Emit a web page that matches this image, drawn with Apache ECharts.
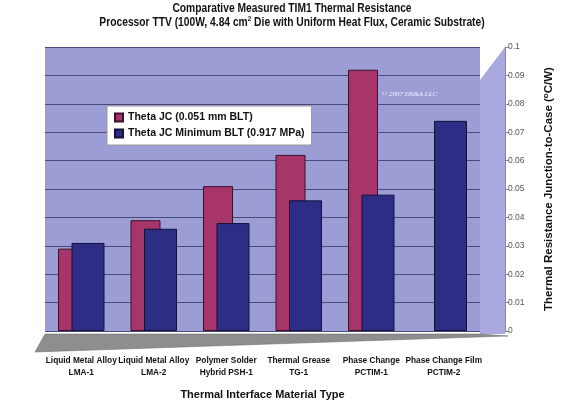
<!DOCTYPE html>
<html>
<head>
    <meta charset="utf-8">
    <title>TIM1 Thermal Resistance</title>
    <script src="https://cdn.jsdelivr.net/npm/echarts@6/dist/echarts.min.js"></script>
    <style>
        html, body { margin: 0; padding: 0; background: #fff; }
        #chart { width: 585px; height: 405px; }
    </style>
</head>
<body>
    <div id="chart"></div>
    <script>
        // categories
        const materials = [
            'Liquid Metal Alloy\nLMA-1',
            'Liquid Metal Alloy\nLMA-2',
            'Polymer Solder\nHybrid PSH-1',
            'Thermal Grease\nTG-1',
            'Phase Change\nPCTIM-1',
            'Phase Change Film\nPCTIM-2'
        ];
        // values (C/W)
        const thetaBLT = [0.029, 0.039, 0.051, 0.062, 0.092, null];
        const thetaMin = [0.031, 0.036, 0.038, 0.046, 0.048, 0.074];
        const seriesNames = ['Theta JC (0.051 mm BLT)', 'Theta JC Minimum BLT (0.917 MPa)'];

        const font = '"Liberation Sans", "DejaVu Sans Condensed", sans-serif';
        const supStyle = { fontSize: 8, fontWeight: 'bold', fontFamily: font, verticalAlign: 'top', padding: [0, 0, 6, 0] };

        const chart = echarts.init(document.getElementById('chart'));

        const option = {
            backgroundColor: '#fff',
            legend: {
                data: seriesNames,
                orient: 'vertical',
                left: 107,
                top: 106,
                backgroundColor: '#fff',
                borderColor: '#999',
                borderWidth: 1,
                padding: [6, 7, 6, 7],
                itemGap: 5,
                itemWidth: 8,
                itemHeight: 8,
                icon: 'rect',
                textStyle: {
                    fontFamily: font,
                    fontSize: 10.5,
                    fontWeight: 'bold',
                    color: '#111'
                }
            },
            grid: {
                left: 45,
                right: 105,
                top: 47,
                bottom: 71,
                show: true,
                backgroundColor: '#9d9dd6',
                borderWidth: 0
            },
            xAxis: {
                type: 'category',
                data: materials,
                axisLine: { show: false },
                axisTick: { show: false },
                axisLabel: {
                    interval: 0,
                    margin: 24,
                    fontFamily: font,
                    fontSize: 8.3,
                    fontWeight: 'bold',
                    color: '#111',
                    lineHeight: 12
                },
                name: 'Thermal Interface Material Type',
                nameLocation: 'middle',
                nameGap: 58,
                nameTextStyle: {
                    fontFamily: font,
                    fontSize: 11,
                    fontWeight: 'bold',
                    color: '#111'
                }
            },
            yAxis: {
                type: 'value',
                position: 'right',
                offset: 25,
                min: 0,
                max: 0.1,
                interval: 0.01,
                axisLine: { show: true, lineStyle: { color: '#888' } },
                axisTick: { show: true, length: 4, lineStyle: { color: '#888' } },
                axisLabel: {
                    margin: 3,
                    fontFamily: font,
                    fontSize: 8.5,
                    color: '#555',
                    formatter: v => String(+v.toFixed(2))
                },
                splitLine: { show: true, lineStyle: { color: '#4a4a78', width: 1 } },
                name: 'Thermal Resistance Junction-to-Case ({sup|o}C/W)',
                nameLocation: 'middle',
                nameRotate: 90,
                nameGap: 37,
                nameTextStyle: {
                    fontFamily: font,
                    fontSize: 11.5,
                    fontWeight: 'bold',
                    color: '#111',
                    rich: { sup: supStyle }
                }
            },
            graphic: [
                // title, squeezed to match the condensed face of the original
                {
                    type: 'text',
                    x: 292,
                    y: 1,
                    scaleX: 0.79,
                    style: {
                        text: 'Comparative Measured TIM1 Thermal Resistance\nProcessor TTV (100W, 4.84 cm{sup|2} Die with Uniform Heat Flux, Ceramic Substrate)',
                        align: 'center',
                        font: 'bold 13px ' + font,
                        fill: '#111',
                        lineHeight: 14,
                        rich: { sup: supStyle }
                    }
                },
                // side wall and floor of the Excel 3D look
                {
                    type: 'polygon',
                    z: -10,
                    shape: { points: [[480, 80], [505, 47], [505, 334], [480, 334]] },
                    style: { fill: '#a9a9e0' }
                },
                {
                    type: 'polygon',
                    z: -10,
                    shape: { points: [[45, 334], [480, 334], [508, 336], [35, 352]] },
                    style: { fill: '#8e8e8e', stroke: '#666', lineWidth: 0.5 }
                },
                {
                    type: 'text',
                    left: 382,
                    top: 91,
                    style: {
                        text: '\u00a9 2007 DS&A LLC',
                        fill: '#f4f4ff',
                        font: 'italic 7px "Liberation Serif", serif'
                    }
                }
            ],
            series: [
                {
                    name: seriesNames[0],
                    type: 'bar',
                    data: thetaBLT,
                    barWidth: 30,
                    barGap: '-55%',
                    itemStyle: { color: '#a8356a', borderColor: '#3a1028', borderWidth: 1 }
                },
                {
                    name: seriesNames[1],
                    type: 'bar',
                    data: thetaMin,
                    barWidth: 33,
                    itemStyle: { color: '#2d2d85', borderColor: '#10103a', borderWidth: 1 }
                }
            ]
        };

        chart.setOption(option);

        window.addEventListener('resize', () => {
            chart.resize();
        });
    </script>
</body>
</html>
